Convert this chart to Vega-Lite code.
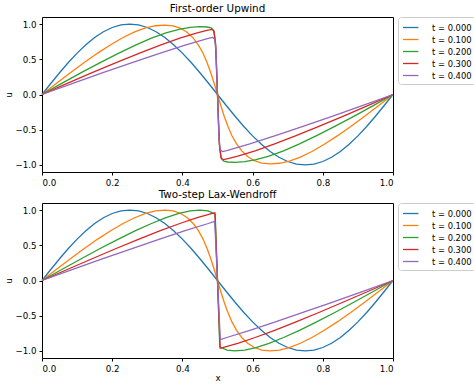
{
  "$schema": "https://vega.github.io/schema/vega-lite/v6.json",
  "padding": {"left": 4, "top": 3, "right": 0, "bottom": 0},
  "spacing": 1,
  "datasets": {
    "upwind": [
      {"x":0,"u":0,"t":"t = 0.000"},{"x":0.025,"u":0.1564,"t":"t = 0.000"},{"x":0.05,"u":0.309,"t":"t = 0.000"},{"x":0.075,"u":0.454,"t":"t = 0.000"},{"x":0.1,"u":0.5878,"t":"t = 0.000"},{"x":0.125,"u":0.7071,"t":"t = 0.000"},{"x":0.15,"u":0.809,"t":"t = 0.000"},{"x":0.175,"u":0.891,"t":"t = 0.000"},{"x":0.2,"u":0.9511,"t":"t = 0.000"},{"x":0.225,"u":0.9877,"t":"t = 0.000"},{"x":0.25,"u":1,"t":"t = 0.000"},{"x":0.275,"u":0.9877,"t":"t = 0.000"},{"x":0.3,"u":0.9511,"t":"t = 0.000"},{"x":0.325,"u":0.891,"t":"t = 0.000"},{"x":0.35,"u":0.809,"t":"t = 0.000"},{"x":0.375,"u":0.7071,"t":"t = 0.000"},{"x":0.4,"u":0.5878,"t":"t = 0.000"},{"x":0.425,"u":0.454,"t":"t = 0.000"},{"x":0.45,"u":0.309,"t":"t = 0.000"},{"x":0.475,"u":0.1564,"t":"t = 0.000"},{"x":0.5,"u":0,"t":"t = 0.000"},{"x":0.525,"u":-0.1564,"t":"t = 0.000"},{"x":0.55,"u":-0.309,"t":"t = 0.000"},{"x":0.575,"u":-0.454,"t":"t = 0.000"},{"x":0.6,"u":-0.5878,"t":"t = 0.000"},{"x":0.625,"u":-0.7071,"t":"t = 0.000"},{"x":0.65,"u":-0.809,"t":"t = 0.000"},{"x":0.675,"u":-0.891,"t":"t = 0.000"},{"x":0.7,"u":-0.9511,"t":"t = 0.000"},{"x":0.725,"u":-0.9877,"t":"t = 0.000"},{"x":0.75,"u":-1,"t":"t = 0.000"},{"x":0.775,"u":-0.9877,"t":"t = 0.000"},{"x":0.8,"u":-0.9511,"t":"t = 0.000"},{"x":0.825,"u":-0.891,"t":"t = 0.000"},{"x":0.85,"u":-0.809,"t":"t = 0.000"},{"x":0.875,"u":-0.7071,"t":"t = 0.000"},{"x":0.9,"u":-0.5878,"t":"t = 0.000"},{"x":0.925,"u":-0.454,"t":"t = 0.000"},{"x":0.95,"u":-0.309,"t":"t = 0.000"},{"x":0.975,"u":-0.1564,"t":"t = 0.000"},{"x":1,"u":0,"t":"t = 0.000"},

      {"x":0,"u":0,"t":"t = 0.100"},{"x":0.0406,"u":0.1564,"t":"t = 0.100"},{"x":0.0809,"u":0.309,"t":"t = 0.100"},{"x":0.1204,"u":0.454,"t":"t = 0.100"},{"x":0.1588,"u":0.5878,"t":"t = 0.100"},{"x":0.1957,"u":0.7071,"t":"t = 0.100"},{"x":0.2309,"u":0.809,"t":"t = 0.100"},{"x":0.2641,"u":0.889,"t":"t = 0.100"},{"x":0.2951,"u":0.946,"t":"t = 0.100"},{"x":0.3238,"u":0.976,"t":"t = 0.100"},{"x":0.35,"u":0.985,"t":"t = 0.100"},{"x":0.3738,"u":0.974,"t":"t = 0.100"},{"x":0.3951,"u":0.94,"t":"t = 0.100"},{"x":0.4141,"u":0.88,"t":"t = 0.100"},{"x":0.4309,"u":0.8,"t":"t = 0.100"},{"x":0.4457,"u":0.7,"t":"t = 0.100"},{"x":0.4588,"u":0.585,"t":"t = 0.100"},{"x":0.4704,"u":0.452,"t":"t = 0.100"},{"x":0.4809,"u":0.308,"t":"t = 0.100"},{"x":0.4906,"u":0.156,"t":"t = 0.100"},{"x":0.5,"u":0,"t":"t = 0.100"},{"x":0.5094,"u":-0.156,"t":"t = 0.100"},{"x":0.5191,"u":-0.308,"t":"t = 0.100"},{"x":0.5296,"u":-0.452,"t":"t = 0.100"},{"x":0.5412,"u":-0.585,"t":"t = 0.100"},{"x":0.5543,"u":-0.7,"t":"t = 0.100"},{"x":0.5691,"u":-0.8,"t":"t = 0.100"},{"x":0.5859,"u":-0.88,"t":"t = 0.100"},{"x":0.6049,"u":-0.94,"t":"t = 0.100"},{"x":0.6262,"u":-0.974,"t":"t = 0.100"},{"x":0.65,"u":-0.985,"t":"t = 0.100"},{"x":0.6762,"u":-0.976,"t":"t = 0.100"},{"x":0.7049,"u":-0.946,"t":"t = 0.100"},{"x":0.7359,"u":-0.889,"t":"t = 0.100"},{"x":0.7691,"u":-0.809,"t":"t = 0.100"},{"x":0.8043,"u":-0.7071,"t":"t = 0.100"},{"x":0.8412,"u":-0.5878,"t":"t = 0.100"},{"x":0.8796,"u":-0.454,"t":"t = 0.100"},{"x":0.9191,"u":-0.309,"t":"t = 0.100"},{"x":0.9594,"u":-0.1564,"t":"t = 0.100"},{"x":1,"u":0,"t":"t = 0.100"},

      {"x":0,"u":0,"t":"t = 0.200"},{"x":0.0563,"u":0.158,"t":"t = 0.200"},{"x":0.1118,"u":0.31,"t":"t = 0.200"},{"x":0.1658,"u":0.452,"t":"t = 0.200"},{"x":0.2176,"u":0.583,"t":"t = 0.200"},{"x":0.2664,"u":0.7,"t":"t = 0.200"},{"x":0.3118,"u":0.8,"t":"t = 0.200"},{"x":0.3532,"u":0.875,"t":"t = 0.200"},{"x":0.3902,"u":0.925,"t":"t = 0.200"},{"x":0.4225,"u":0.952,"t":"t = 0.200"},{"x":0.45,"u":0.962,"t":"t = 0.200"},{"x":0.47,"u":0.958,"t":"t = 0.200"},{"x":0.482,"u":0.945,"t":"t = 0.200"},{"x":0.489,"u":0.91,"t":"t = 0.200"},{"x":0.494,"u":0.75,"t":"t = 0.200"},{"x":0.5,"u":0,"t":"t = 0.200"},{"x":0.506,"u":-0.75,"t":"t = 0.200"},{"x":0.511,"u":-0.91,"t":"t = 0.200"},{"x":0.518,"u":-0.945,"t":"t = 0.200"},{"x":0.53,"u":-0.958,"t":"t = 0.200"},{"x":0.55,"u":-0.962,"t":"t = 0.200"},{"x":0.5775,"u":-0.952,"t":"t = 0.200"},{"x":0.6098,"u":-0.925,"t":"t = 0.200"},{"x":0.6468,"u":-0.875,"t":"t = 0.200"},{"x":0.6882,"u":-0.8,"t":"t = 0.200"},{"x":0.7336,"u":-0.7,"t":"t = 0.200"},{"x":0.7824,"u":-0.583,"t":"t = 0.200"},{"x":0.8342,"u":-0.452,"t":"t = 0.200"},{"x":0.8882,"u":-0.31,"t":"t = 0.200"},{"x":0.9437,"u":-0.158,"t":"t = 0.200"},{"x":1,"u":0,"t":"t = 0.200"},

      {"x":0,"u":0,"t":"t = 0.300"},{"x":0.0719,"u":0.158,"t":"t = 0.300"},{"x":0.1427,"u":0.31,"t":"t = 0.300"},{"x":0.2112,"u":0.452,"t":"t = 0.300"},{"x":0.2763,"u":0.585,"t":"t = 0.300"},{"x":0.3371,"u":0.7,"t":"t = 0.300"},{"x":0.3927,"u":0.8,"t":"t = 0.300"},{"x":0.4423,"u":0.875,"t":"t = 0.300"},{"x":0.47,"u":0.91,"t":"t = 0.300"},{"x":0.483,"u":0.925,"t":"t = 0.300"},{"x":0.49,"u":0.9,"t":"t = 0.300"},{"x":0.495,"u":0.7,"t":"t = 0.300"},{"x":0.5,"u":0,"t":"t = 0.300"},{"x":0.505,"u":-0.7,"t":"t = 0.300"},{"x":0.51,"u":-0.9,"t":"t = 0.300"},{"x":0.517,"u":-0.925,"t":"t = 0.300"},{"x":0.53,"u":-0.91,"t":"t = 0.300"},{"x":0.5577,"u":-0.875,"t":"t = 0.300"},{"x":0.6073,"u":-0.8,"t":"t = 0.300"},{"x":0.6629,"u":-0.7,"t":"t = 0.300"},{"x":0.7237,"u":-0.585,"t":"t = 0.300"},{"x":0.7888,"u":-0.452,"t":"t = 0.300"},{"x":0.8573,"u":-0.31,"t":"t = 0.300"},{"x":0.9281,"u":-0.158,"t":"t = 0.300"},{"x":1,"u":0,"t":"t = 0.300"},

      {"x":0,"u":0,"t":"t = 0.400"},{"x":0.0876,"u":0.158,"t":"t = 0.400"},{"x":0.1736,"u":0.31,"t":"t = 0.400"},{"x":0.2566,"u":0.452,"t":"t = 0.400"},{"x":0.3351,"u":0.583,"t":"t = 0.400"},{"x":0.4078,"u":0.7,"t":"t = 0.400"},{"x":0.4736,"u":0.795,"t":"t = 0.400"},{"x":0.486,"u":0.81,"t":"t = 0.400"},{"x":0.492,"u":0.785,"t":"t = 0.400"},{"x":0.496,"u":0.6,"t":"t = 0.400"},{"x":0.5,"u":0,"t":"t = 0.400"},{"x":0.504,"u":-0.6,"t":"t = 0.400"},{"x":0.508,"u":-0.785,"t":"t = 0.400"},{"x":0.514,"u":-0.81,"t":"t = 0.400"},{"x":0.5264,"u":-0.795,"t":"t = 0.400"},{"x":0.5922,"u":-0.7,"t":"t = 0.400"},{"x":0.6649,"u":-0.583,"t":"t = 0.400"},{"x":0.7434,"u":-0.452,"t":"t = 0.400"},{"x":0.8264,"u":-0.31,"t":"t = 0.400"},{"x":0.9124,"u":-0.158,"t":"t = 0.400"},{"x":1,"u":0,"t":"t = 0.400"}
    ],
    "laxw": [
      {"x":0,"u":0,"t":"t = 0.000"},{"x":0.025,"u":0.1564,"t":"t = 0.000"},{"x":0.05,"u":0.309,"t":"t = 0.000"},{"x":0.075,"u":0.454,"t":"t = 0.000"},{"x":0.1,"u":0.5878,"t":"t = 0.000"},{"x":0.125,"u":0.7071,"t":"t = 0.000"},{"x":0.15,"u":0.809,"t":"t = 0.000"},{"x":0.175,"u":0.891,"t":"t = 0.000"},{"x":0.2,"u":0.9511,"t":"t = 0.000"},{"x":0.225,"u":0.9877,"t":"t = 0.000"},{"x":0.25,"u":1,"t":"t = 0.000"},{"x":0.275,"u":0.9877,"t":"t = 0.000"},{"x":0.3,"u":0.9511,"t":"t = 0.000"},{"x":0.325,"u":0.891,"t":"t = 0.000"},{"x":0.35,"u":0.809,"t":"t = 0.000"},{"x":0.375,"u":0.7071,"t":"t = 0.000"},{"x":0.4,"u":0.5878,"t":"t = 0.000"},{"x":0.425,"u":0.454,"t":"t = 0.000"},{"x":0.45,"u":0.309,"t":"t = 0.000"},{"x":0.475,"u":0.1564,"t":"t = 0.000"},{"x":0.5,"u":0,"t":"t = 0.000"},{"x":0.525,"u":-0.1564,"t":"t = 0.000"},{"x":0.55,"u":-0.309,"t":"t = 0.000"},{"x":0.575,"u":-0.454,"t":"t = 0.000"},{"x":0.6,"u":-0.5878,"t":"t = 0.000"},{"x":0.625,"u":-0.7071,"t":"t = 0.000"},{"x":0.65,"u":-0.809,"t":"t = 0.000"},{"x":0.675,"u":-0.891,"t":"t = 0.000"},{"x":0.7,"u":-0.9511,"t":"t = 0.000"},{"x":0.725,"u":-0.9877,"t":"t = 0.000"},{"x":0.75,"u":-1,"t":"t = 0.000"},{"x":0.775,"u":-0.9877,"t":"t = 0.000"},{"x":0.8,"u":-0.9511,"t":"t = 0.000"},{"x":0.825,"u":-0.891,"t":"t = 0.000"},{"x":0.85,"u":-0.809,"t":"t = 0.000"},{"x":0.875,"u":-0.7071,"t":"t = 0.000"},{"x":0.9,"u":-0.5878,"t":"t = 0.000"},{"x":0.925,"u":-0.454,"t":"t = 0.000"},{"x":0.95,"u":-0.309,"t":"t = 0.000"},{"x":0.975,"u":-0.1564,"t":"t = 0.000"},{"x":1,"u":0,"t":"t = 0.000"},

      {"x":0,"u":0,"t":"t = 0.100"},{"x":0.0406,"u":0.1564,"t":"t = 0.100"},{"x":0.0809,"u":0.309,"t":"t = 0.100"},{"x":0.1204,"u":0.454,"t":"t = 0.100"},{"x":0.1588,"u":0.5878,"t":"t = 0.100"},{"x":0.1957,"u":0.7071,"t":"t = 0.100"},{"x":0.2309,"u":0.809,"t":"t = 0.100"},{"x":0.2641,"u":0.891,"t":"t = 0.100"},{"x":0.2951,"u":0.9511,"t":"t = 0.100"},{"x":0.3238,"u":0.9877,"t":"t = 0.100"},{"x":0.35,"u":1,"t":"t = 0.100"},{"x":0.3738,"u":0.9877,"t":"t = 0.100"},{"x":0.3951,"u":0.9511,"t":"t = 0.100"},{"x":0.4141,"u":0.891,"t":"t = 0.100"},{"x":0.4309,"u":0.809,"t":"t = 0.100"},{"x":0.4457,"u":0.7071,"t":"t = 0.100"},{"x":0.4588,"u":0.5878,"t":"t = 0.100"},{"x":0.4704,"u":0.454,"t":"t = 0.100"},{"x":0.4809,"u":0.309,"t":"t = 0.100"},{"x":0.4906,"u":0.1564,"t":"t = 0.100"},{"x":0.5,"u":0,"t":"t = 0.100"},{"x":0.5094,"u":-0.1564,"t":"t = 0.100"},{"x":0.5191,"u":-0.309,"t":"t = 0.100"},{"x":0.5296,"u":-0.454,"t":"t = 0.100"},{"x":0.5412,"u":-0.5878,"t":"t = 0.100"},{"x":0.5543,"u":-0.7071,"t":"t = 0.100"},{"x":0.5691,"u":-0.809,"t":"t = 0.100"},{"x":0.5859,"u":-0.891,"t":"t = 0.100"},{"x":0.6049,"u":-0.9511,"t":"t = 0.100"},{"x":0.6262,"u":-0.9877,"t":"t = 0.100"},{"x":0.65,"u":-1,"t":"t = 0.100"},{"x":0.6762,"u":-0.9877,"t":"t = 0.100"},{"x":0.7049,"u":-0.9511,"t":"t = 0.100"},{"x":0.7359,"u":-0.891,"t":"t = 0.100"},{"x":0.7691,"u":-0.809,"t":"t = 0.100"},{"x":0.8043,"u":-0.7071,"t":"t = 0.100"},{"x":0.8412,"u":-0.5878,"t":"t = 0.100"},{"x":0.8796,"u":-0.454,"t":"t = 0.100"},{"x":0.9191,"u":-0.309,"t":"t = 0.100"},{"x":0.9594,"u":-0.1564,"t":"t = 0.100"},{"x":1,"u":0,"t":"t = 0.100"},

      {"x":0,"u":0,"t":"t = 0.200"},{"x":0.0563,"u":0.1564,"t":"t = 0.200"},{"x":0.1118,"u":0.309,"t":"t = 0.200"},{"x":0.1658,"u":0.454,"t":"t = 0.200"},{"x":0.2176,"u":0.5878,"t":"t = 0.200"},{"x":0.2664,"u":0.7071,"t":"t = 0.200"},{"x":0.3118,"u":0.809,"t":"t = 0.200"},{"x":0.3532,"u":0.891,"t":"t = 0.200"},{"x":0.3902,"u":0.9511,"t":"t = 0.200"},{"x":0.4225,"u":0.9877,"t":"t = 0.200"},{"x":0.45,"u":1,"t":"t = 0.200"},{"x":0.4725,"u":0.9877,"t":"t = 0.200"},{"x":0.4902,"u":0.9511,"t":"t = 0.200"},{"x":0.4935,"u":0.935,"t":"t = 0.200"},{"x":0.5065,"u":-0.935,"t":"t = 0.200"},{"x":0.5098,"u":-0.9511,"t":"t = 0.200"},{"x":0.5275,"u":-0.9877,"t":"t = 0.200"},{"x":0.55,"u":-1,"t":"t = 0.200"},{"x":0.5775,"u":-0.9877,"t":"t = 0.200"},{"x":0.6098,"u":-0.9511,"t":"t = 0.200"},{"x":0.6468,"u":-0.891,"t":"t = 0.200"},{"x":0.6882,"u":-0.809,"t":"t = 0.200"},{"x":0.7336,"u":-0.7071,"t":"t = 0.200"},{"x":0.7824,"u":-0.5878,"t":"t = 0.200"},{"x":0.8342,"u":-0.454,"t":"t = 0.200"},{"x":0.8882,"u":-0.309,"t":"t = 0.200"},{"x":0.9437,"u":-0.1564,"t":"t = 0.200"},{"x":1,"u":0,"t":"t = 0.200"},

      {"x":0,"u":0,"t":"t = 0.300"},{"x":0.0719,"u":0.1564,"t":"t = 0.300"},{"x":0.1427,"u":0.309,"t":"t = 0.300"},{"x":0.2112,"u":0.454,"t":"t = 0.300"},{"x":0.2763,"u":0.5878,"t":"t = 0.300"},{"x":0.3371,"u":0.7071,"t":"t = 0.300"},{"x":0.3927,"u":0.809,"t":"t = 0.300"},{"x":0.4423,"u":0.891,"t":"t = 0.300"},{"x":0.4853,"u":0.9511,"t":"t = 0.300"},{"x":0.4925,"u":0.96,"t":"t = 0.300"},{"x":0.5075,"u":-0.96,"t":"t = 0.300"},{"x":0.5147,"u":-0.9511,"t":"t = 0.300"},{"x":0.5577,"u":-0.891,"t":"t = 0.300"},{"x":0.6073,"u":-0.809,"t":"t = 0.300"},{"x":0.6629,"u":-0.7071,"t":"t = 0.300"},{"x":0.7237,"u":-0.5878,"t":"t = 0.300"},{"x":0.7888,"u":-0.454,"t":"t = 0.300"},{"x":0.8573,"u":-0.309,"t":"t = 0.300"},{"x":0.9281,"u":-0.1564,"t":"t = 0.300"},{"x":1,"u":0,"t":"t = 0.300"},

      {"x":0,"u":0,"t":"t = 0.400"},{"x":0.0876,"u":0.1564,"t":"t = 0.400"},{"x":0.1736,"u":0.309,"t":"t = 0.400"},{"x":0.2566,"u":0.454,"t":"t = 0.400"},{"x":0.3351,"u":0.5878,"t":"t = 0.400"},{"x":0.4078,"u":0.7071,"t":"t = 0.400"},{"x":0.4736,"u":0.809,"t":"t = 0.400"},{"x":0.492,"u":0.84,"t":"t = 0.400"},{"x":0.508,"u":-0.84,"t":"t = 0.400"},{"x":0.5264,"u":-0.809,"t":"t = 0.400"},{"x":0.5922,"u":-0.7071,"t":"t = 0.400"},{"x":0.6649,"u":-0.5878,"t":"t = 0.400"},{"x":0.7434,"u":-0.454,"t":"t = 0.400"},{"x":0.8264,"u":-0.309,"t":"t = 0.400"},{"x":0.9124,"u":-0.1564,"t":"t = 0.400"},{"x":1,"u":0,"t":"t = 0.400"}
    ]
  },
  "vconcat": [
    {
      "title": "First-order Upwind",
      "width": 351,
      "height": 155,
      "data": {"name": "upwind"},
      "mark": {"type": "line", "strokeWidth": 1.3},
      "encoding": {
        "x": {"field": "x", "type": "quantitative", "scale": {"domain": [0, 1], "nice": false, "zero": false}, "axis": {"title": null, "values": [0, 0.2, 0.4, 0.6, 0.8, 1.0], "format": ".1f"}},
        "y": {"field": "u", "type": "quantitative", "scale": {"domain": [-1.1, 1.1], "nice": false, "zero": false}, "axis": {"title": "u", "values": [-1, -0.5, 0, 0.5, 1], "format": ".1f"}},
        "color": {"field": "t", "type": "nominal", "scale": {"domain": ["t = 0.000", "t = 0.100", "t = 0.200", "t = 0.300", "t = 0.400"], "range": ["#1f77b4", "#ff7f0e", "#2ca02c", "#d62728", "#9467bd"]}, "legend": {"title": null}}
      }
    },
    {
      "title": "Two-step Lax-Wendroff",
      "width": 351,
      "height": 155,
      "data": {"name": "laxw"},
      "mark": {"type": "line", "strokeWidth": 1.3},
      "encoding": {
        "x": {"field": "x", "type": "quantitative", "scale": {"domain": [0, 1], "nice": false, "zero": false}, "axis": {"title": "x", "values": [0, 0.2, 0.4, 0.6, 0.8, 1.0], "format": ".1f"}},
        "y": {"field": "u", "type": "quantitative", "scale": {"domain": [-1.1, 1.1], "nice": false, "zero": false}, "axis": {"title": "u", "values": [-1, -0.5, 0, 0.5, 1], "format": ".1f"}},
        "color": {"field": "t", "type": "nominal", "scale": {"domain": ["t = 0.000", "t = 0.100", "t = 0.200", "t = 0.300", "t = 0.400"], "range": ["#1f77b4", "#ff7f0e", "#2ca02c", "#d62728", "#9467bd"]}, "legend": {"title": null}}
      }
    }
  ],
  "resolve": {"scale": {"color": "independent"}, "legend": {"color": "independent"}},
  "config": {
    "font": "DejaVu Sans",
    "view": {"stroke": "#000000", "strokeWidth": 1},
    "axis": {"grid": false, "domain": false, "tickColor": "#000000", "tickSize": 3, "labelColor": "#000000", "labelFontSize": 8.7, "labelPadding": 3, "titleFontSize": 8.7, "titleFontWeight": "normal", "titleColor": "#000000", "titlePadding": 1},
    "axisX": {"titlePadding": 1},
    "title": {"fontSize": 10.4, "fontWeight": "normal", "offset": 2, "color": "#000000"},
    "legend": {"orient": "right", "offset": 2, "padding": 4, "strokeColor": "#cccccc", "fillColor": "#ffffff", "cornerRadius": 3, "symbolType": "M-1,0H1.8", "symbolSize": 121, "symbolStrokeWidth": 1.3, "labelFontSize": 8.4, "labelColor": "#000000", "labelOffset": 17, "rowPadding": 1}
  }
}
